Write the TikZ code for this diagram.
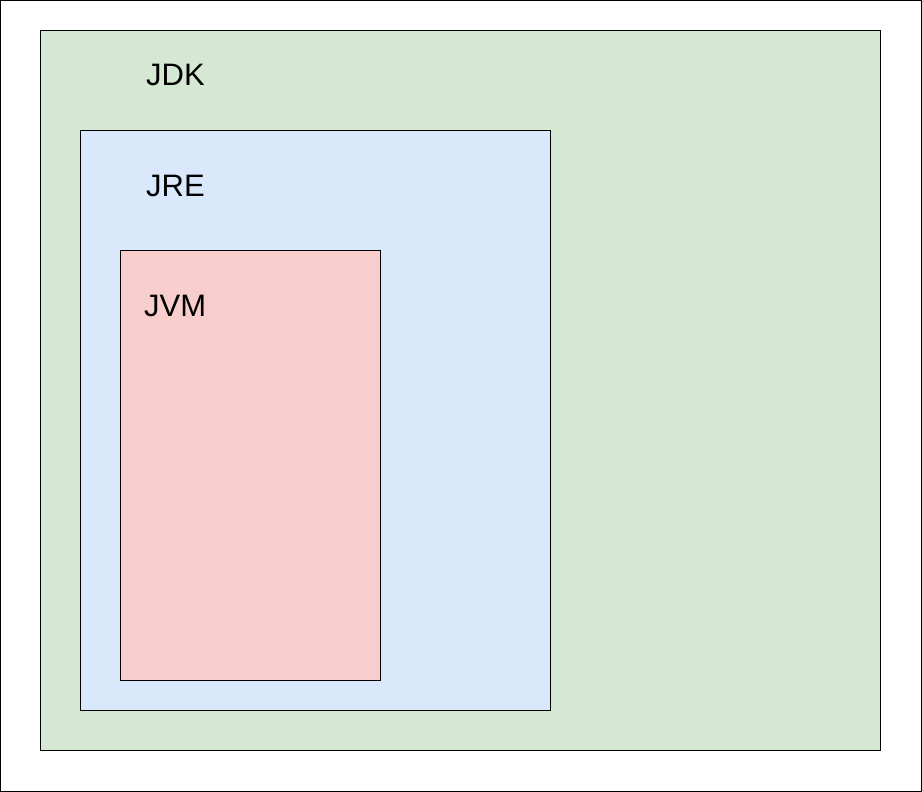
\documentclass[tikz,border=0pt]{standalone}
\usepackage{fontspec}
\setmainfont{Liberation Sans}
\tikzstyle{layer}=[draw=black,line width=1pt,anchor=north west,inner sep=0pt]
\tikzstyle{tag}=[anchor=base west,inner sep=0pt,font=\fontsize{31}{36}\selectfont]
\definecolor{jdkgreen}{HTML}{D5E8D4}
\definecolor{jreblue}{HTML}{DAE8FC}
\definecolor{jvmred}{HTML}{F8CECC}

\begin{document}
\begin{tikzpicture}[x=1pt,y=-1pt]
\draw[fill=white,line width=1pt] (0.5,0.5) rectangle (921.5,791.5);
\node[layer,fill=jdkgreen,minimum width=840pt,minimum height=720pt] at (40,30) (jdk) {};
\node[layer,fill=jreblue,minimum width=470pt,minimum height=580pt] at (80,130) (jre) {};
\node[layer,fill=jvmred,minimum width=260pt,minimum height=430pt] at (120,250) (jvm) {};
\node[tag] at (146,86) (jdklabel) {JDK};
\node[tag] at (146,196) (jrelabel) {JRE};
\node[tag] at (144,316) (jvmlabel) {JVM};
\end{tikzpicture}
\end{document}
